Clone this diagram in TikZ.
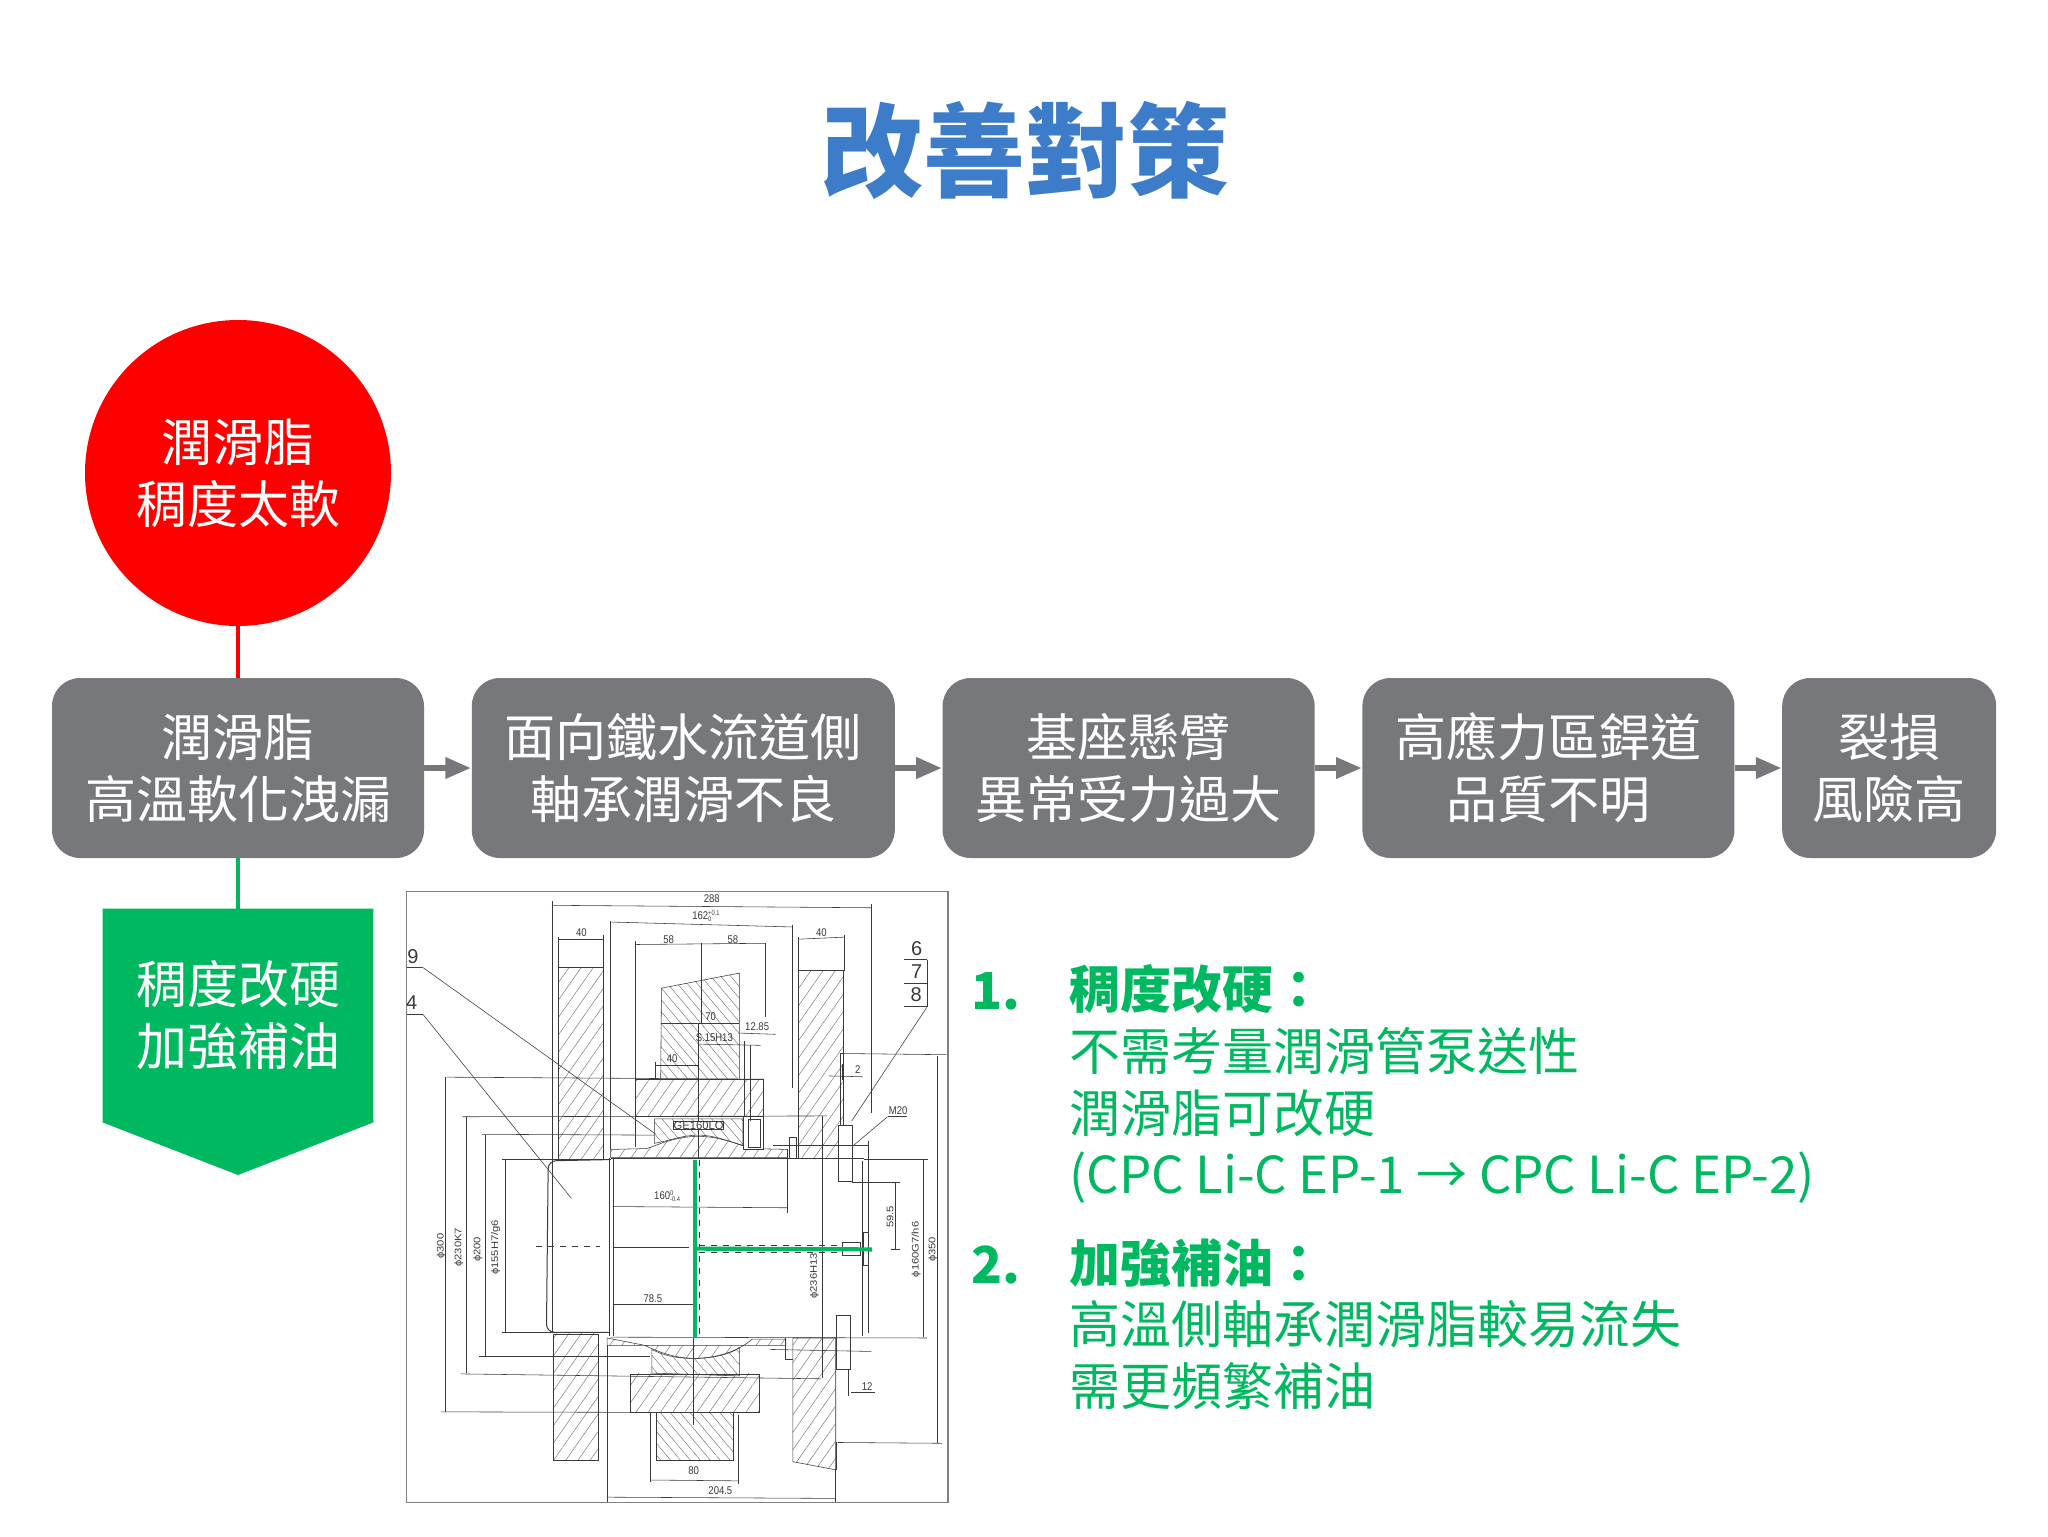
\documentclass[tikz,border=0pt]{standalone}
\usepackage{fontspec}
\setmainfont{Noto Sans CJK TC}
\newfontfamily\dimfont{Liberation Sans}
\usetikzlibrary{arrows.meta,positioning,patterns.meta,backgrounds}

\definecolor{slategray}{HTML}{76787B}
\definecolor{fixgreen}{HTML}{00B85F}
\definecolor{titleblue}{HTML}{3D7CC9}
\definecolor{inkgray}{HTML}{3A3A3A}
\definecolor{hatchgray}{HTML}{666666}

\newcommand{\tolstack}[2]{\rlap{\raisebox{2.2pt}{\fontsize{3.4}{3.4}\selectfont #1}}\raisebox{-1pt}{\fontsize{3.4}{3.4}\selectfont #2}}

\tikzset{
  chainbox/.style={rectangle,rounded corners=14pt,fill=slategray,text=white,
    minimum height=90pt,inner sep=0pt,align=center,
    font=\fontsize{25.5}{31}\selectfont},
  flow/.style={-{Triangle[length=13pt,width=10pt]},line width=3.2pt,slategray},
  itemtext/.style={text=fixgreen,inner sep=0pt,align=left,
    font=\fontsize{25.5}{30.8}\selectfont},
  ink/.style={draw=inkgray,line width=.28pt},
  hatchup/.style={ink,pattern={Lines[angle=55,distance=5pt,line width=.2pt]},pattern color=hatchgray},
  hatchdown/.style={ink,pattern={Lines[angle=-50,distance=3.8pt,line width=.2pt]},pattern color=hatchgray},
  dimlabel/.style={inner sep=0pt,text=inkgray,xscale=.85,font=\dimfont\fontsize{5.6}{6}\selectfont},
  partlabel/.style={inner sep=0pt,text=inkgray,font=\dimfont\fontsize{10}{10}\selectfont},
}

\begin{document}
\begin{tikzpicture}[x=.5pt,y=-.5pt]
    \useasboundingbox (0,0) rectangle (2048,1536);

    \node (title) at (1025,150) [text=titleblue,inner sep=0pt,
      font=\fontsize{51}{60}\bfseries\selectfont] {改善對策};

    \node (cause) at (238,473) [circle,fill=red,text=white,minimum size=153pt,
      inner sep=0pt,align=center,font=\fontsize{25.5}{31}\selectfont]
      {潤滑脂\\稠度太軟};

    % failure chain
    \node (leak) at (238,768) [chainbox,minimum width=186pt]
      {潤滑脂\\高溫軟化洩漏};
    \node (bearing) [chainbox,minimum width=211.5pt,right=23.5pt of leak]
      {面向鐵水流道側\\軸承潤滑不良};
    \node (seat) [chainbox,minimum width=186pt,right=23.5pt of bearing]
      {基座懸臂\\異常受力過大};
    \node (weld) [chainbox,minimum width=186pt,right=23.5pt of seat]
      {高應力區銲道\\品質不明};
    \node (risk) [chainbox,minimum width=107pt,right=23.5pt of weld]
      {裂損\\風險高};

    \foreach \a/\b in {leak/bearing,bearing/seat,seat/weld,weld/risk} {
      \draw [flow] (\a) -- (\b);
    }

    \node (fix) at (238,1015.5) [rectangle,text=white,
      minimum width=135pt,minimum height=106.5pt,inner sep=0pt,align=center,
      font=\fontsize{25.5}{31}\selectfont] {稠度改硬\\加強補油};
    \coordinate (fixtip) at (238,1175);
    \begin{pgfonlayer}{background}
      \fill [fixgreen] (fix.north west) -- (fix.north east) -- (fix.south east)
        -- (fixtip) -- (fix.south west) -- cycle;
    \end{pgfonlayer}

    \draw [red,line width=2pt] (cause) -- (leak);
    \draw [fixgreen,line width=2pt] (leak) -- (fix);

    % list on the right
    \node (itemone) at (1069,964.5) [itemtext,anchor=north west]
      {\textbf{稠度改硬：}\\不需考量潤滑管泵送性\\潤滑脂可改硬\\(CPC Li-C EP-1 → CPC Li-C EP-2)};
    \node (itemtwo) at (1069,1238) [itemtext,anchor=north west]
      {\textbf{加強補油：}\\高溫側軸承潤滑脂較易流失\\需更頻繁補油};
    \node (numone) at (971,972) [itemtext,anchor=north west] {\textbf{1.}};
    \node (numtwo) at (971,1245) [itemtext,anchor=north west] {\textbf{2.}};

    % bearing drawing
    \begin{scope}[shift={(400,880)},x=.17857pt,y=-.20408pt]
      \draw [draw=gray,line width=.8pt,fill=white] (18,28) rectangle (1535,1525);

      % hatched parts
      \draw [hatchup] (443,215) rectangle (570,685);
      \draw [hatchup] (1115,222) -- (1240,222) -- (1240,600) -- (1228,600)
        -- (1228,682) -- (1115,682) -- cycle;
      \draw [hatchdown] (732,265) -- (950,228) -- (950,488) -- (730,488) -- cycle;
      \draw [hatchup] (660,488) rectangle (1018,580);
      \draw [hatchdown] (712,585) -- (960,585) -- (960,650)
        .. controls (920,640) and (880,625) .. (835,625)
        .. controls (790,625) and (750,640) .. (712,645) -- cycle;
      \draw [hatchup] (590,660) -- (690,658)
        .. controls (720,650) and (770,628) .. (835,628)
        .. controls (900,628) and (950,650) .. (985,658)
        -- (1085,660) -- (1085,680) -- (590,680) -- cycle;
      \draw [ink,fill=white] (960,580) rectangle (1018,660);
      \draw [ink] (975,585) rectangle (1010,655);
      \draw [hatchup] (580,1122) -- (685,1140)
        .. controls (720,1155) and (770,1172) .. (825,1172)
        .. controls (880,1172) and (950,1155) .. (985,1125)
        -- (1080,1125) -- (1080,1140) -- (580,1140) -- cycle;
      \draw [hatchdown] (705,1150) .. controls (750,1170) and (790,1172) .. (825,1172)
        .. controls (880,1172) and (930,1160) .. (950,1145) -- (950,1215) -- (705,1208) -- cycle;
      \draw [hatchup] (645,1210) rectangle (1005,1305);
      \draw [hatchdown] (718,1305) rectangle (932,1422);
      \draw [hatchup] (428,1112) rectangle (555,1422);
      \draw [hatchup] (1100,1122) -- (1220,1122) -- (1220,1445) -- (1100,1425) -- cycle;

      % shaft and bolts
      \draw [ink,line width=.5pt,rounded corners=4pt] (585,685) -- (415,688) -- (410,1108) -- (585,1108);
      \draw [ink,fill=white,line width=.5pt] (1228,602) rectangle (1268,738);
      \draw [ink,fill=white,line width=.5pt] (1222,1066) rectangle (1262,1200);
      \draw [ink,fill=white] (1237,888) rectangle (1290,920);
      \draw [ink,fill=white] (1298,862) rectangle (1310,945);

      \foreach \xa/\ya/\xb/\yb in {
        425/52/425/690, 1320/58/1320/570, 590/100/590/660, 1097/110/1097/510,
        443/140/443/215, 570/135/570/680, 1115/140/1115/222, 1243/135/1243/222,
        660/150/660/655, 1024/155/1024/335, 843/155/843/350, 835/350/835/680,
        425/62/1320/68, 592/103/1097/115, 443/145/570/145, 1115/145/1243/140,
        662/158/1024/155, 730/350/950/350, 835/402/1010/405, 715/455/835/455,
        715/445/715/488, 950/375/1052/378, 965/395/965/580, 980/405/980/590,
        130/483/1018/488, 115/1303/1005/1305, 175/580/1195/578, 170/1210/1180/1222,
        230/623/712/625, 222/1168/700/1168, 285/685/590/685, 590/682/1300/682,
        285/1108/585/1108, 590/1120/1475/1122, 127/483/127/1303, 185/580/185/1208,
        240/625/240/1168, 295/685/295/1108, 425/688/425/1108, 585/680/585/1118,
        597/680/597/1118, 1085/680/1085/815, 595/800/1085/803, 595/1040/820/1040,
        1232/425/1530/428, 1232/425/1232/600, 1505/430/1505/1380, 1225/1378/1518/1380,
        1222/1378/1222/1445, 1300/685/1478/685, 1465/685/1465/1120, 1183/578/1183/1220,
        1295/688/1295/1118, 1310/688/1310/1110, 1265/740/1400/740, 1375/905/1400/905,
        1388/740/1388/905, 1200/480/1295/482, 1237/450/1237/490, 1270/650/1365/580,
        1365/580/1420/580, 1262/1255/1330/1255, 1256/1200/1256/1265, 1045/650/1310/650,
        1035/1150/1320/1155, 1090/630/1110/630, 1090/630/1090/680, 1110/630/1110/680,
        1080/1122/1080/1175, 1080/1175/1100/1175, 1312/640/1312/690, 822/1122/822/1335,
        700/1305/700/1475, 948/1310/948/1480, 700/1470/948/1472, 580/1140/580/1525,
        1218/1445/1218/1525, 580/1512/1218/1515, 600/900/810/900,
        20/213/62/213, 62/213/715/622, 20/330/65/330, 65/330/480/780,
        1410/195/1475/195, 1410/253/1475/253, 1410/310/1475/310, 1475/195/1475/310,
        1475/312/1265/590} {
        \draw [ink] (\xa,\ya) -- (\xb,\yb);
      }
      \draw [ink,dashed] (380,898) -- (560,898);
      \draw [ink,dashed,line width=.5pt] (838,685) -- (838,1120);
      \draw [ink,dashed,line width=.5pt] (838,895) -- (1237,895);
      \draw [ink,dashed,line width=.5pt] (838,912) -- (1237,912);

      % printed sizes
      \foreach \lx/\ly/\txt [count=\i] in {
        873/46/288, 845/88/{162\tolstack{+0.1}{0}}, 508/128/40, 1180/128/40, 752/145/58,
        932/147/58, 870/335/70, 1000/360/12.85, 880/387/S.15H13, 762/438/40,
        1282/465/2, 1395/565/M20, 748/775/{160\tolstack{0}{-0.4}}, 708/1025/78.5,
        1308/1240/12, 822/1448/80, 897/1495/204.5} {
        \node (size\i) at (\lx,\ly) [dimlabel] {\txt};
      }
      \foreach \lx/\ly/\txt [count=\i] in {
        115/897/ϕ300, 165/900/ϕ230K7, 218/905/ϕ200, 268/900/{ϕ155H7/g6},
        1160/970/ϕ236H13, 1372/825/59.5, 1445/905/{ϕ160G7/h6}, 1492/905/ϕ350} {
        \node (bore\i) at (\lx,\ly) [dimlabel,rotate=90] {\txt};
      }
      \node (gelabel) at (836,601) [ink,fill=white,minimum width=24pt,minimum height=4.4pt,
        inner sep=0pt,text=inkgray,font=\dimfont\fontsize{5.6}{6}\selectfont] {GE160LO};

      \foreach \lx/\ly/\txt in {36/187/9,33/300/4,1447/168/6,1447/225/7,1445/280/8} {
        \node (part\txt) at (\lx,\ly) [partlabel] {\txt};
      }

      % green section marks
      \draw [fixgreen,line width=2.1pt] (825,685) -- (825,1120);
      \draw [fixgreen,line width=2.1pt] (825,903) -- (1322,905);
    \end{scope}
  \end{tikzpicture}
\end{document}
